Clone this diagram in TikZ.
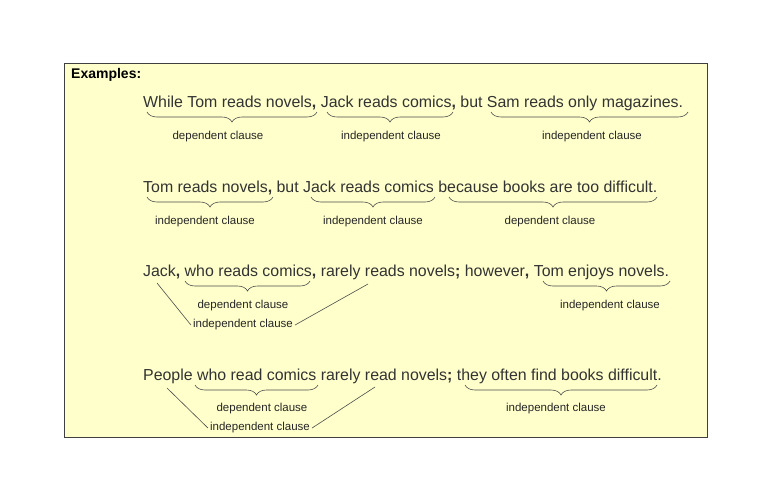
\documentclass[tikz,border=0pt]{standalone}
\usepackage{fontspec}
\setmainfont{Liberation Sans}
\usetikzlibrary{decorations.pathreplacing}
\begin{document}
\begin{tikzpicture}[x=1pt,y=-1pt,
 sent/.style={anchor=west,inner sep=0pt,font=\fontsize{15.9}{18}\selectfont,text=black!80},
 lab/.style={inner sep=2pt,font=\fontsize{11.5}{13}\selectfont,text=black!85},
 br/.style={decorate,decoration={brace,mirror,amplitude=10pt,aspect=0.5},draw=black!70,line width=0.6pt},
 ln/.style={draw=black!70,line width=0.6pt}]
\useasboundingbox (0,0) rectangle (768,503);
\node[draw=black!75,fill={rgb,255:red,255;green,255;blue,204},minimum width=643pt,minimum height=374pt,anchor=north west,inner sep=0pt] (box) at (64,63) {};
\node[anchor=west,inner sep=0pt,font=\bfseries\fontsize{14}{16}\selectfont] (ex) at (71,75) {Examples:};
\node[sent] (s1) at (143,103) {While Tom reads novels\textbf{,} Jack reads comics\textbf{,} but Sam reads only magazines.};
\draw[br] (147,112) -- (317,112); \node[lab] (l11) at (218,137) {dependent clause};
\draw[br] (327,112) -- (453,112); \node[lab] (l12) at (391,137) {independent clause};
\draw[br] (491,112) -- (688,112); \node[lab] (l13) at (592,137) {independent clause};
\node[sent] (s2) at (143,188) {Tom reads novels\textbf{,} but Jack reads comics because books are too difficult.};
\draw[br] (147,197) -- (273,197); \node[lab] (l21) at (205,222) {independent clause};
\draw[br] (311,197) -- (435,197); \node[lab] (l22) at (373,222) {independent clause};
\draw[br] (449,197) -- (657,197); \node[lab] (l23) at (550,222) {dependent clause};
\node[sent] (s3) at (143,272) {Jack\textbf{,} who reads comics\textbf{,} rarely reads novels\textbf{;} however\textbf{,} Tom enjoys novels.};
\draw[br] (185,281) -- (310,281); \node[lab] (l31) at (243,306) {dependent clause};
\node[lab] (l32) at (243,325) {independent clause};
\coordinate (a3) at (157,283); \coordinate (b3) at (368,284);
\draw[ln] (a3) -- (l32.west); \draw[ln] (b3) -- (l32.east);
\draw[br] (543,281) -- (670,281); \node[lab] (l33) at (610,306) {independent clause};
\node[sent] (s4) at (143,376) {People who read comics rarely read novels\textbf{;} they often find books difficult.};
\draw[br] (195,385) -- (318,385); \node[lab] (l41) at (262,409) {dependent clause};
\node[lab] (l42) at (260,428) {independent clause};
\coordinate (a4) at (167,388); \coordinate (b4) at (375,387);
\draw[ln] (a4) -- (l42.west); \draw[ln] (b4) -- (l42.east);
\draw[br] (465,385) -- (657,385); \node[lab] (l43) at (556,409) {independent clause};
\end{tikzpicture}
\end{document}
